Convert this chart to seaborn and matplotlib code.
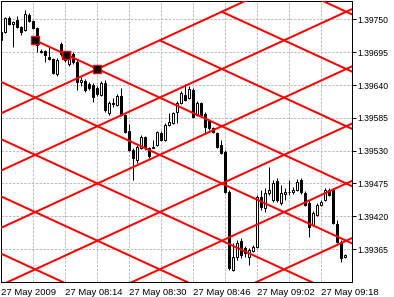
import numpy as np
import pandas as pd
import matplotlib
matplotlib.use("Agg")
import matplotlib.pyplot as plt
import seaborn as sns

# ---- data (M1 candles, bar index = minutes since 07:58) ----
bars = list(range(87))
opens = [1.39729, 1.39729, 1.39753, 1.39742, 1.39749, 1.39737, 1.39732, 1.39758, 1.39747, 1.39736,
         1.39697, 1.39697, 1.39687, 1.39684, 1.39659, 1.39709, 1.39692, 1.39675, 1.39692, 1.39679,
         1.39645, 1.39647, 1.39642, 1.39640, 1.39635, 1.39623, 1.39644, 1.39593, 1.39610, 1.39607,
         1.39622, 1.39590, 1.39563, 1.39531, 1.39514, 1.39535, 1.39553, 1.39535, 1.39536, 1.39540,
         1.39560, 1.39548, 1.39573, 1.39576, 1.39595, 1.39610, 1.39623, 1.39618, 1.39632, 1.39590,
         1.39610, 1.39592, 1.39580, 1.39568, 1.39560, 1.39540, 1.39528, 1.39461, 1.39330, 1.39352,
         1.39379, 1.39367, 1.39352, 1.39362, 1.39369, 1.39452, 1.39434, 1.39459, 1.39447, 1.39479,
         1.39442, 1.39457, 1.39461, 1.39461, 1.39464, 1.39481, 1.39459, 1.39442, 1.39405, 1.39422,
         1.39439, 1.39447, 1.39464, 1.39464, 1.39407, 1.39377, 1.39352]
highs = [1.39732, 1.39754, 1.39756, 1.39747, 1.39756, 1.39739, 1.39766, 1.39761, 1.39749, 1.39737,
         1.39701, 1.39699, 1.39704, 1.39685, 1.39685, 1.39712, 1.39696, 1.39696, 1.39696, 1.39682,
         1.39654, 1.39650, 1.39645, 1.39644, 1.39638, 1.39647, 1.39649, 1.39613, 1.39618, 1.39625,
         1.39635, 1.39592, 1.39575, 1.39535, 1.39540, 1.39556, 1.39555, 1.39536, 1.39548, 1.39563,
         1.39563, 1.39576, 1.39593, 1.39595, 1.39613, 1.39630, 1.39642, 1.39638, 1.39635, 1.39613,
         1.39612, 1.39595, 1.39583, 1.39570, 1.39561, 1.39548, 1.39531, 1.39464, 1.39375, 1.39380,
         1.39384, 1.39370, 1.39367, 1.39372, 1.39456, 1.39464, 1.39467, 1.39503, 1.39481, 1.39484,
         1.39472, 1.39467, 1.39481, 1.39469, 1.39483, 1.39484, 1.39462, 1.39447, 1.39429, 1.39442,
         1.39447, 1.39467, 1.39467, 1.39467, 1.39414, 1.39380, 1.39357]
lows = [1.39712, 1.39727, 1.39741, 1.39704, 1.39736, 1.39724, 1.39731, 1.39746, 1.39734, 1.39696,
        1.39694, 1.39679, 1.39682, 1.39659, 1.39655, 1.39689, 1.39679, 1.39672, 1.39675, 1.39632,
        1.39638, 1.39628, 1.39632, 1.39612, 1.39622, 1.39622, 1.39595, 1.39590, 1.39603, 1.39605,
        1.39588, 1.39560, 1.39530, 1.39481, 1.39509, 1.39533, 1.39531, 1.39518, 1.39535, 1.39538,
        1.39546, 1.39546, 1.39571, 1.39575, 1.39576, 1.39608, 1.39613, 1.39617, 1.39585, 1.39588,
        1.39588, 1.39558, 1.39565, 1.39560, 1.39535, 1.39524, 1.39459, 1.39330, 1.39328, 1.39347,
        1.39350, 1.39352, 1.39338, 1.39360, 1.39367, 1.39431, 1.39427, 1.39456, 1.39444, 1.39444,
        1.39439, 1.39447, 1.39456, 1.39457, 1.39462, 1.39457, 1.39437, 1.39385, 1.39404, 1.39421,
        1.39437, 1.39446, 1.39454, 1.39407, 1.39375, 1.39343, 1.39350]
closes = [1.39716, 1.39753, 1.39742, 1.39746, 1.39737, 1.39729, 1.39759, 1.39747, 1.39736, 1.39707,
          1.39696, 1.39690, 1.39684, 1.39660, 1.39682, 1.39692, 1.39682, 1.39692, 1.39679, 1.39645,
          1.39649, 1.39632, 1.39635, 1.39620, 1.39625, 1.39644, 1.39598, 1.39610, 1.39608, 1.39622,
          1.39590, 1.39561, 1.39531, 1.39518, 1.39536, 1.39553, 1.39535, 1.39521, 1.39535, 1.39561,
          1.39548, 1.39573, 1.39578, 1.39593, 1.39610, 1.39627, 1.39615, 1.39633, 1.39587, 1.39610,
          1.39590, 1.39570, 1.39568, 1.39561, 1.39536, 1.39526, 1.39461, 1.39333, 1.39352, 1.39375,
          1.39355, 1.39358, 1.39364, 1.39369, 1.39452, 1.39436, 1.39459, 1.39464, 1.39476, 1.39447,
          1.39459, 1.39461, 1.39460, 1.39464, 1.39478, 1.39461, 1.39439, 1.39402, 1.39426, 1.39439,
          1.39444, 1.39464, 1.39456, 1.39409, 1.39377, 1.39350, 1.39355]

x_tick_bars = [0, 16, 32, 48, 64, 80]
x_tick_labels = ["27 May 2009", "27 May 08:14", "27 May 08:30",
                 "27 May 08:46", "27 May 09:02", "27 May 09:18"]
y_ticks = [1.39365, 1.39420, 1.39475, 1.39530, 1.39585, 1.39640, 1.39695, 1.39750]

# Gann grid anchor points (bar, price)
gann_bars = [8.45, 24.0]
gann_prices = [1.39715, 1.39667]

# ---- figure ----
sns.set_style("white")
plt.rcParams['font.family'] = ['Liberation Sans', 'DejaVu Sans']

W, H = 394, 297
fig = plt.figure(figsize=(W / 100, H / 100), dpi=100)
ax = fig.add_axes([1 / W, 15 / H, 351 / W, 281 / H])
ax.set_facecolor("white")

px = 0.72  # one pixel in points

ax.set_xlim(-0.1, 87.65)
ax.set_ylim(1.393098, 1.397810)
ax.set_xticks(x_tick_bars)
ax.set_xticklabels(x_tick_labels, ha="left", fontsize=6.8)
ax.set_xticks([b + 8 for b in x_tick_bars], minor=True)
ax.set_yticks(y_ticks)
ax.set_yticklabels([f"{v:.5f}" for v in y_ticks], fontsize=6.2)
ax.yaxis.tick_right()
ax.tick_params(axis="y", which="major", direction="out", length=2.9, width=px, pad=1, colors="black")
ax.tick_params(axis="x", which="major", direction="out", length=3.6, width=px, pad=0.5, colors="black")
ax.tick_params(axis="x", which="minor", length=0)
grid_kw = dict(color="#bdbdbd", linestyle=(0, (2.4, 1.4)), linewidth=px)
ax.grid(True, axis="x", which="both", **grid_kw)
ax.grid(True, axis="y", which="major", **grid_kw)
ax.set_axisbelow(True)
for s in ax.spines.values():
    s.set_color("black")
    s.set_linewidth(px)
    s.set_visible(True)

# candles
o = np.array(opens); h = np.array(highs); l = np.array(lows); c = np.array(closes)
xb = np.array(bars)
ax.vlines(xb, l, h, color="black", linewidth=px, zorder=2)
body_bottom = np.minimum(o, c)
body_h = np.maximum(np.abs(c - o), 1e-7)
faces = ["white" if cc > oo else "black" for oo, cc in zip(o, c)]
ax.bar(xb, body_h, bottom=body_bottom, width=0.5, color=faces,
       edgecolor="black", linewidth=px, zorder=3)

# Gann grid lattice
k1, k2 = gann_bars
p1, p2 = gann_prices
slope = (p1 - p2) / (k2 - k1)
step = 2 * (p1 - p2)
xs = np.arange(-2, 90.01, 0.05)
B = np.where(xs <= k1, p1 + slope * (xs - k1),
             np.where(xs <= k2, p1 - slope * (xs - k1), p2 + slope * (xs - k2)))
tol = 1e-8
rows = []
seg = 0
for direction in (-1, 1):
    for j in range(-14, 15):
        ys = p2 + direction * slope * (xs - k2) + j * step
        keep = np.where(xs < k1, ys < B - tol, ys <= B + tol)
        idx = np.flatnonzero(keep)
        if idx.size < 2:
            continue
        splits = np.split(idx, np.flatnonzero(np.diff(idx) > 1) + 1)
        for run in splits:
            if run.size < 2:
                continue
            for i in run:
                rows.append((xs[i], ys[i], seg))
            seg += 1
gdf = pd.DataFrame(rows, columns=["bar", "price", "seg"])
sns.lineplot(data=gdf, x="bar", y="price", units="seg", estimator=None, sort=False,
             color="#ff0000", linewidth=2 * px, legend=False, ax=ax, zorder=4)

# anchor squares
mx = [k1, (k1 + k2) / 2, k2]
my = [p1, (p1 + p2) / 2, p2]
ax.plot(mx, my, linestyle="none", marker="s", markersize=5.2, markerfacecolor="black",
        markeredgecolor="#ff0000", markeredgewidth=1.0, zorder=5)

ax.set_xlim(-0.1, 87.65)
ax.set_ylim(1.393098, 1.397810)
ax.set_xlabel("")
ax.set_ylabel("")

fig.savefig("out.png", dpi=100)
